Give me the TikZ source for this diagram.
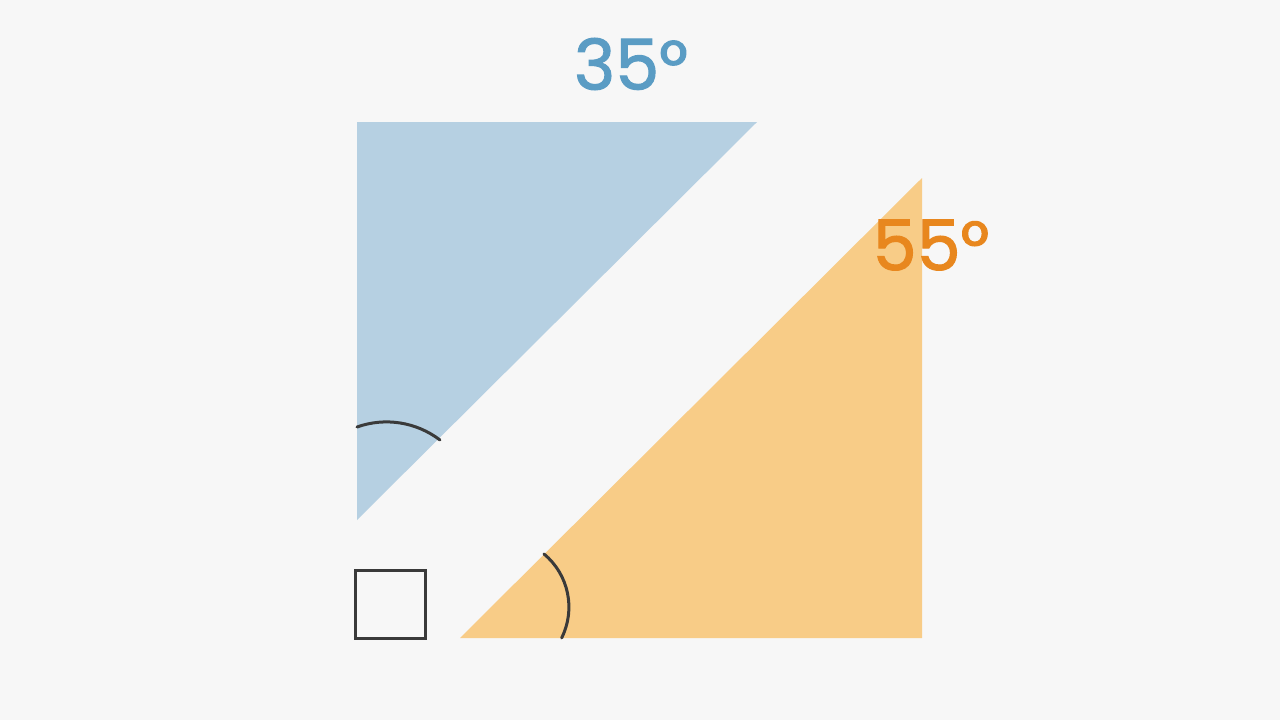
\documentclass[tikz,border=0pt]{standalone}
\usepackage{fontspec}
\newfontfamily\pop[FakeBold=1.6]{Poppins}
\definecolor{bg}{HTML}{F7F7F7}
\definecolor{bluefill}{HTML}{B6D0E2}
\definecolor{orangefill}{HTML}{F8CC87}
\definecolor{bluetxt}{HTML}{5A9CC4}
\definecolor{orangetxt}{HTML}{E8871E}
\definecolor{ink}{HTML}{3A3A3A}
\begin{document}
\begin{tikzpicture}[x=1pt,y=-1pt,
  anglearc/.style={draw=ink,line width=3pt,line cap=round},
  lbl/.style={font=\pop\fontsize{70}{70}\selectfont,inner sep=0pt}]
\fill[bg] (0,0) rectangle (1280,720);
\useasboundingbox (0,0) rectangle (1280,720);
% blue triangle
\fill[bluefill] (357,122) -- (757,122) -- (357,520) -- cycle;
% orange triangle
\fill[orangefill] (460,638) -- (922,178) -- (922,638) -- cycle;
% arcs
\draw[anglearc] (357,427) arc[start angle=-109.6,end angle=-52.6,radius=88];
\draw[anglearc] (544,554) arc[start angle=-50.3,end angle=26.6,radius=69];
% right-angle square
\draw[draw=ink,line width=3pt] (355,570) rectangle (425,638);
% labels
\node[lbl,text=bluetxt] (a35) at (631,64) {35°};
\node[lbl,text=orangetxt] (a55) at (931,245) {55°};
\end{tikzpicture}
\end{document}
